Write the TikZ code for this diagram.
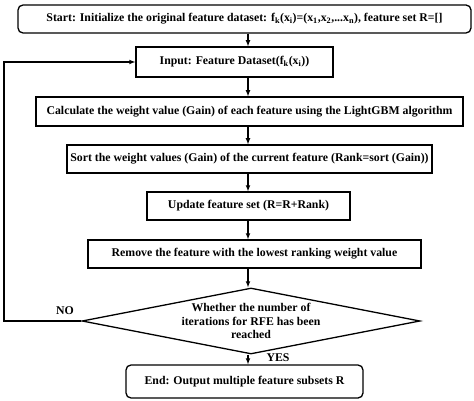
\documentclass[tikz,border=0pt]{standalone}
\usepackage{fontspec}
\setmainfont{Liberation Serif}
\usepackage{tikz}
\usetikzlibrary{calc}
\usetikzlibrary{arrows}
\usetikzlibrary{shapes.geometric}

\begin{document}
\begin{tikzpicture}[x=1pt, y=-1pt,
        box/.style={draw, line width=1.3pt, inner sep=0pt, font=\fontsize{11.8}{13.8}\selectfont\bfseries},
        terminal/.style={box, rounded corners=5pt},
        decision/.style={box, diamond, aspect=5.1, align=center, inner sep=-4pt},
        flow/.style={->, >=latex, line width=1.1pt},
        tag/.style={font=\fontsize{11.8}{13.8}\selectfont\bfseries}]
            % Frame to fix the page size
            \useasboundingbox                                                 (0, 0) rectangle (474, 401);
            % Boxes
            \node[terminal, minimum width=453pt, minimum height=28pt] (start)  at (244.5, 19.0)
                 {Start: Initialize the original feature dataset: f\textsubscript{k}(x\textsubscript{i})=(x\textsubscript{1},x\textsubscript{2},...x\textsubscript{n}), feature set R=[]};
            \node[box,      minimum width=197pt, minimum height=30pt] (input)  at (234.5, 62.0)
                 {Input: Feature Dataset(f\textsubscript{k}(x\textsubscript{i}))};
            \node[box,      minimum width=427pt, minimum height=29pt] (gain)   at (249.5,111.5)
                 {Calculate the weight value (Gain) of each feature using the LightGBM algorithm};
            \node[box,      minimum width=365pt, minimum height=28pt] (rank)   at (249.5,159.0)
                 {Sort the weight values (Gain) of the current feature (Rank=sort (Gain))};
            \node[box,      minimum width=203pt, minimum height=28pt] (update) at (248.5,206.0)
                 {Update feature set (R=R+Rank)};
            \node[box,      minimum width=333pt, minimum height=28pt] (remove) at (254.5,254.0)
                 {Remove the feature with the lowest ranking weight value};
            \node[decision, minimum width=338pt, minimum height=66pt] (check)  at (251.0,321.0)
                 {Whether the number of\\ iterations for RFE has been\\ reached};
            \node[terminal, minimum width=237pt, minimum height=33pt] (stop)   at (244.5,381.5)
                 {End: Output multiple feature subsets R};
            % Main flow
            \coordinate (axis) at (248, 0);
            \coordinate (loop) at (4, 0);
            \draw[flow] (start.south  -| axis) -- (input.north  -| axis);
            \draw[flow] (input.south  -| axis) -- (gain.north   -| axis);
            \draw[flow] (gain.south   -| axis) -- (rank.north   -| axis);
            \draw[flow] (rank.south   -| axis) -- (update.north -| axis);
            \draw[flow] (update.south -| axis) -- (remove.north -| axis);
            \draw[flow] (remove.south -| axis) -- (check.north  -| axis);
            \draw[flow] (check.south  -| axis) -- (stop.north   -| axis);
            % Back to the input
            \draw[flow] (check.west) -- (loop |- check.west) |- (input.west);
            \node[tag] (no)  at ( 65, 311) {NO};
            \node[tag] (yes) at (278, 358) {YES};
        \end{tikzpicture}
\end{document}
